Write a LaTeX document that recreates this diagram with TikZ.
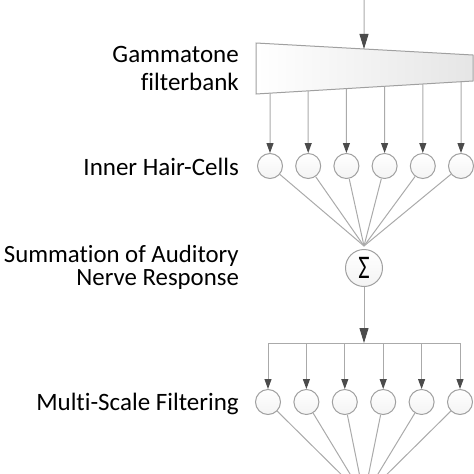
\documentclass[tikz,border=0pt]{standalone}
\usepackage{fontspec}
\usepackage{graphicx}
\setmainfont[Ligatures=NoCommon]{Carlito}
\usetikzlibrary{arrows.meta,calc}
\definecolor{linegray}{RGB}{170,170,170}
\definecolor{tipgray}{RGB}{75,75,75}
\definecolor{edgegray}{RGB}{160,160,160}
\begin{document}
\begin{tikzpicture}[x=1pt,y=-1pt,
  conn/.style={draw=linegray, line width=1pt},
  arr/.style={conn, -{Triangle[length=10pt,width=7pt,color=tipgray]}},
  bigarr/.style={conn, -{Triangle[length=15pt,width=9pt,color=tipgray]}},
  cell/.style={circle, draw=edgegray, line width=1pt, minimum size=25pt, inner sep=0pt, top color=white, bottom color=gray!9},
  lab/.style={font=\fontsize{25}{28}\selectfont, align=right, inner sep=0pt},
  trap/.style={draw=edgegray, line width=1pt, left color=white, right color=gray!20}]
\useasboundingbox (0,0) rectangle (474,474);
\clip (0,0) rectangle (474,474);
% labels
\node[lab, anchor=east] (lgam) at (239,68) {Gammatone\\filterbank};
\node[lab, anchor=base east] (lihc) at (239,175) {Inner Hair-Cells};
\node[lab, anchor=east, font=\fontsize{24.8}{23.5}\selectfont] (lsum) at (239,267.5) {Summation of Auditory\\Nerve Response};
\node[lab, anchor=base east] (lmsf) at (239,410) {Multi-Scale Filtering};
% filterbank trapezoid
\coordinate (tl) at (256,43);
\coordinate (tr) at (473,55);
\coordinate (br) at (473,81);
\coordinate (bl) at (256,94);
\path[trap] (tl) -- (tr) -- (br) -- (bl) -- cycle;
\coordinate (in) at (364,0);
\coordinate (intip) at ($(tl)!{(364-256)/217}!(tr)$);
\draw[bigarr] (in) -- (intip);
% sigma
\node[cell, minimum size=37pt] (sig) at (364,268) {\fontsize{33}{34}\selectfont\scalebox{0.75}[1]{Σ}};
\coordinate (conv) at (364,246);
% inner hair cells
\foreach \i in {0,...,5} {
  \pgfmathsetmacro\xx{270+38.2*\i}
  \node[cell] (h\i) at (\xx,166) {};
  \coordinate (s\i) at ($(bl)!{(\xx-256)/217}!(br)$);
  \draw[arr] (s\i) -- (h\i);
  \draw[conn] (h\i) -- (conv);
}
% distribution bar
\coordinate (bar) at (364,343);
\coordinate (barL) at (268,343);
\coordinate (barR) at (460,343);
\draw[bigarr] (sig) -- (bar);
\draw[conn] (barL) -- (barR);
\coordinate (out) at (364,497);
\foreach \i in {0,...,5} {
  \pgfmathsetmacro\xx{268+38.4*\i}
  \node[cell] (m\i) at (\xx,402) {};
  \draw[arr] (m\i |- bar) -- (m\i);
  \draw[conn] (m\i) -- (out);
}
\end{tikzpicture}
\end{document}
